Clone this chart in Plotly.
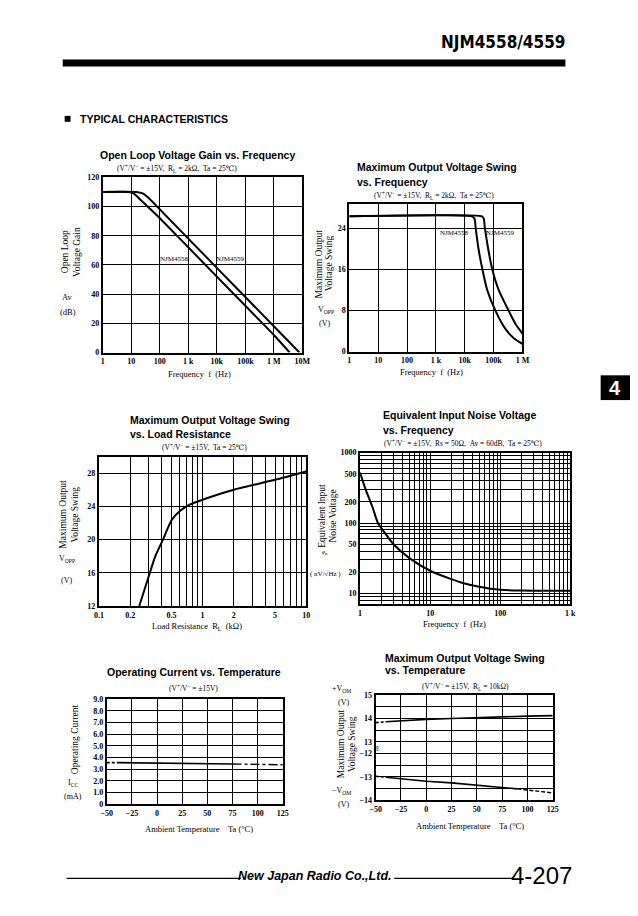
import plotly.graph_objects as go

W, H = 638, 916

# ---------------- data ----------------
# 1. Open loop voltage gain vs frequency
gain_freq_4558 = [1, 8, 12, 20, 100, 1e3, 1e4, 1e5, 1e6, 3.6e6]
gain_db_4558 = [110, 110, 109, 105, 92, 72, 52, 32, 12, 0]
gain_freq_4559 = [1, 15, 25, 40, 100, 1e3, 1e4, 1e5, 1e6, 7.9e6]
gain_db_4559 = [110, 110, 109, 106, 98, 78, 58, 38, 18, 0]
freq7_ticks = [1, 10, 100, 1e3, 1e4, 1e5, 1e6, 1e7]
freq7_labels = ["1", "10", "100", "1 k", "10k", "100k", "1 M", "10M"]

# 2. Max output voltage swing vs frequency
swing_freq_4558 = [1, 1.8e4, 2.2e4, 2.4e4, 3e4, 4.1e4, 6e4, 1.15e5, 2.5e5, 5e5, 1e6]
swing_v_4558 = [26.3, 26.3, 25.8, 24, 20, 16, 12, 8, 4.5, 2.6, 1.5]
swing_freq_4559 = [1, 4e4, 4.6e4, 5e4, 6.5e4, 9e4, 1.5e5, 3.3e5, 6e5, 1e6]
swing_v_4559 = [26.3, 26.3, 25.8, 24, 20, 16, 12, 8, 5.2, 3.5]
freq6_labels = ["1", "10", "100", "1 k", "10k", "100k", "1 M"]
swing_ticks = [0, 8, 16, 24]

# 3. Max output voltage swing vs load resistance
load_kohm = [0.245, 0.31, 0.35, 0.415, 0.5, 0.6, 0.75, 1, 2, 5, 10]
load_vopp = [12, 16, 18, 20, 22.3, 23.4, 24.2, 24.8, 26, 27.2, 28.2]
load_ticks = [12, 16, 20, 24, 28]
load_tickvals = [0.1, 0.2, 0.5, 1, 2, 5, 10]
load_ticklabels = ["0.1", "0.2", "0.5", "1", "2", "5", "10"]

# 4. Equivalent input noise voltage vs frequency
noise_freq = [1, 1.2, 1.5, 1.8, 2.2, 3, 5, 10, 20, 30, 50, 100, 200, 1000]
noise_nv = [520, 300, 170, 100, 75, 50, 32, 21, 16, 14, 12.5, 11.3, 11, 10.9]
noise_y_ticks = [10, 20, 50, 100, 200, 500, 1000]
noise_y_labels = ["10", "20", "50", "100", "200", "500", "1000"]
noise_x_ticks = [1, 10, 100, 1000]
noise_x_labels = ["1", "10", "100", "1 k"]

# 5. Operating current vs temperature
temp_icc = [-50, -40, -25, 0, 25, 50, 75, 100, 125]
icc_ma = [3.55, 3.55, 3.54, 3.52, 3.5, 3.47, 3.44, 3.4, 3.37]
temp_ticks = [-50, -25, 0, 25, 50, 75, 100, 125]
temp_labels = ["\u221250", "\u221225", "0", "25", "50", "75", "100", "125"]
icc_labels = ["0", "1.0", "2.0", "3.0", "4.0", "5.0", "6.0", "7.0", "8.0", "9.0"]

# 6. Max output voltage swing vs temperature
temp_vom = [-50, -40, -25, 0, 25, 50, 75, 90, 100, 125]
vom_pos = [13.82, 13.86, 13.9, 13.96, 14.0, 14.04, 14.07, 14.09, 14.1, 14.12]
vom_neg = [-12.98, -13.02, -13.09, -13.19, -13.26, -13.35, -13.45, -13.52, -13.57, -13.69]
vom_tick_volts = [-14, -13, -12, 13, 14, 15]
vom_labels = ["\u221214", "\u221213", "\u221212", "13", "14", "15"]
vom_minor_volts = [-13.5, -12.5, 13.5, 14.5]


def vom_axis(v):
    # broken axis: positive swing 13..15 above, negative -14..-12 below
    return 2 * v - 21 if v > 0 else 2 * (v + 14)


# ---------------- helpers ----------------
def xd(a, b):
    return [a / W, b / W]


def yd(top, bottom):
    return [1 - bottom / H, 1 - top / H]


def logminor(lo_dec, hi_dec, skip):
    vals = []
    for d in range(lo_dec, hi_dec + 1):
        for m in range(1, 10):
            v = round(m * 10 ** d, 6)
            if v not in skip:
                vals.append(v)
    return vals


SERIF = "Liberation Serif, DejaVu Serif, serif"
SANS = "Liberation Sans, Arial, sans-serif"

axis_common = dict(showline=True, linecolor="black", linewidth=2, mirror=True,
                   showgrid=True, gridcolor="black", gridwidth=1.1, zeroline=False,
                   ticks="", tickfont=dict(family=SERIF, size=8, color="black", weight="bold"),
                   fixedrange=True)


def minor(vals):
    return dict(tickvals=vals, showgrid=True, gridcolor="black", gridwidth=1.1, ticks="")


fig = go.Figure()
line = dict(color="black", width=2)

# chart 1
fig.add_trace(go.Scatter(x=gain_freq_4558, y=gain_db_4558, mode="lines", line=dict(line, shape="spline", smoothing=0.5),
                         xaxis="x", yaxis="y"))
fig.add_trace(go.Scatter(x=gain_freq_4559, y=gain_db_4559, mode="lines", line=dict(line, shape="spline", smoothing=0.5),
                         xaxis="x", yaxis="y"))
# chart 2
fig.add_trace(go.Scatter(x=swing_freq_4558, y=swing_v_4558, mode="lines", line=dict(line, shape="spline", smoothing=0.5),
                         xaxis="x2", yaxis="y2"))
fig.add_trace(go.Scatter(x=swing_freq_4559, y=swing_v_4559, mode="lines", line=dict(line, shape="spline", smoothing=0.5),
                         xaxis="x2", yaxis="y2"))
# chart 3
fig.add_trace(go.Scatter(x=load_kohm, y=load_vopp, mode="lines", line=dict(line, shape="spline", smoothing=0.6),
                         xaxis="x3", yaxis="y3"))
# chart 4
fig.add_trace(go.Scatter(x=noise_freq, y=noise_nv, mode="lines", line=dict(line, shape="spline", smoothing=0.8),
                         xaxis="x4", yaxis="y4"))
# chart 5: dashed start, solid middle, dash-dot end
fig.add_trace(go.Scatter(x=temp_icc[0:2], y=icc_ma[0:2], mode="lines", line=dict(color="black", width=1.6, dash="3px,2px"),
                         xaxis="x5", yaxis="y5"))
fig.add_trace(go.Scatter(x=temp_icc[1:7], y=icc_ma[1:7], mode="lines", line=dict(color="black", width=1.6),
                         xaxis="x5", yaxis="y5"))
fig.add_trace(go.Scatter(x=temp_icc[6:], y=icc_ma[6:], mode="lines", line=dict(color="black", width=1.4, dash="dashdot"),
                         xaxis="x5", yaxis="y5"))
# chart 6
pos_u = [vom_axis(v) for v in vom_pos]
neg_u = [vom_axis(v) for v in vom_neg]
for series in (pos_u, neg_u):
    fig.add_trace(go.Scatter(x=temp_vom[0:2], y=series[0:2], mode="lines",
                             line=dict(color="black", width=1.6, dash="3px,2px"), xaxis="x6", yaxis="y6"))
fig.add_trace(go.Scatter(x=temp_vom[1:], y=pos_u[1:], mode="lines", line=dict(color="black", width=1.6),
                         xaxis="x6", yaxis="y6"))
fig.add_trace(go.Scatter(x=temp_vom[1:8], y=neg_u[1:8], mode="lines", line=dict(color="black", width=1.6),
                         xaxis="x6", yaxis="y6"))
fig.add_trace(go.Scatter(x=temp_vom[7:], y=neg_u[7:], mode="lines", line=dict(color="black", width=1.4, dash="4px,2px"),
                         xaxis="x6", yaxis="y6"))

# ---------------- axes ----------------
fig.update_layout(
    xaxis=dict(axis_common, type="log", range=[0, 7], tickvals=freq7_ticks, ticktext=freq7_labels,
               domain=xd(99, 303), anchor="y"),
    yaxis=dict(axis_common, range=[0, 120], tickvals=[0, 20, 40, 60, 80, 100, 120],
               domain=yd(175, 352), anchor="x"),
    xaxis2=dict(axis_common, type="log", range=[0, 6], tickvals=freq7_ticks[:7], ticktext=freq6_labels,
                domain=xd(351, 528), anchor="y2"),
    yaxis2=dict(axis_common, range=[0, 28.7], tickvals=swing_ticks,
                domain=yd(202, 351), anchor="x2"),
    xaxis3=dict(axis_common, type="log", range=[-1, 1],
                tickvals=load_tickvals, ticktext=load_ticklabels,
                minor=minor(logminor(-1, 0, load_tickvals)),
                domain=xd(95, 307), anchor="y3"),
    yaxis3=dict(axis_common, range=[12, 30], tickvals=load_ticks,
                domain=yd(457, 608), anchor="x3"),
    xaxis4=dict(axis_common, type="log", range=[0, 3],
                tickvals=noise_x_ticks, ticktext=noise_x_labels,
                minor=minor(logminor(0, 2, noise_x_ticks)),
                domain=xd(362, 577), anchor="y4"),
    yaxis4=dict(axis_common, type="log", range=[0.85, 3],
                tickvals=noise_y_ticks, ticktext=noise_y_labels,
                minor=minor(logminor(0, 2, noise_y_ticks)),
                domain=yd(453, 606), anchor="x4"),
    xaxis5=dict(axis_common, range=[-50, 125], tickvals=temp_ticks, ticktext=temp_labels,
                domain=xd(103, 283), anchor="y5"),
    yaxis5=dict(axis_common, range=[0, 9], tickvals=list(range(10)), ticktext=icc_labels,
                domain=yd(702, 808), anchor="x5"),
    xaxis6=dict(axis_common, range=[-50, 125], tickvals=temp_ticks, ticktext=temp_labels,
                domain=xd(378, 559), anchor="y6"),
    yaxis6=dict(axis_common, range=[0, 9], tickvals=[vom_axis(v) for v in vom_tick_volts], ticktext=vom_labels,
                minor=minor([vom_axis(v) for v in vom_minor_volts]),
                domain=yd(698, 804), anchor="x6"),
)

# ---------------- text ----------------
anns = []


def ann(text, x, y, size=9, family=SERIF, xanchor="center", angle=0, color="black", bold=False):
    if bold:
        text = "<b>" + text + "</b>"
    anns.append(dict(text=text, x=x / W, y=1 - y / H, xref="paper", yref="paper", showarrow=False,
                     xanchor=xanchor, yanchor="middle", textangle=angle,
                     font=dict(family=family, size=size, color=color)))


TS = 10.5  # title size
# header
ann("NJM4558/4559", 574, 38, size=17, family="Liberation Sans Narrow, DejaVu Sans Condensed, sans-serif",
    xanchor="right", bold=True)
ann("TYPICAL CHARACTERISTICS", 74, 116, size=10.5, family=SANS, xanchor="left", bold=True)

# chart 1
ann("Open Loop Voltage Gain vs. Frequency", 196, 153, size=TS, family=SANS, bold=True)
ann("(V<sup>+</sup>/V<sup>\u2212</sup> = \u00b115V,  R<sub>L</sub> = 2k\u03a9,  Ta = 25\u2103)", 175, 166, size=7.5)
ann("Open Loop", 60, 250, size=9.5, angle=-90)
ann("Voltage Gain", 72, 250, size=9.5, angle=-90)
ann("Av", 63, 296, size=8.5)
ann("(dB)", 63, 311, size=8.5)
ann("NJM4558", 172, 258, size=7)
ann("NJM4559", 230, 258, size=7)
ann("Frequency  f  (Hz)", 198, 374, size=8.5)

# chart 2
ann("Maximum Output Voltage Swing", 357, 165, size=TS, family=SANS, xanchor="left", bold=True)
ann("vs. Frequency", 357, 180, size=TS, family=SANS, xanchor="left", bold=True)
ann("(V<sup>+</sup>/V<sup>\u2212</sup> = \u00b115V,  R<sub>L</sub> = 2k\u03a9,  Ta = 25\u2103)", 438, 193, size=7.5)
ann("Maximum Output", 320, 262, size=9.5, angle=-90)
ann("Voltage Swing", 331, 262, size=9.5, angle=-90)
ann("V<sub>OPP</sub>", 327, 309, size=8)
ann("(V)", 326, 323, size=8)
ann("NJM4558", 459, 231, size=7)
ann("NJM4559", 506, 231, size=7)
ann("Frequency  f  (Hz)", 435, 372, size=8.5)

# chart 3
ann("Maximum Output Voltage Swing", 125, 420, size=TS, family=SANS, xanchor="left", bold=True)
ann("vs. Load Resistance", 125, 434, size=TS, family=SANS, xanchor="left", bold=True)
ann("(V<sup>+</sup>/V<sup>\u2212</sup> = \u00b115V,  Ta = 25\u2103)", 203, 447, size=7.5)
ann("Maximum Output", 58, 515, size=9.5, angle=-90)
ann("Voltage Swing", 70, 515, size=9.5, angle=-90)
ann("V<sub>OPP</sub>", 62, 561, size=8)
ann("(V)", 62, 582, size=8)
ann("Load Resistance  R<sub>L</sub>  (k\u03a9)", 195, 629, size=8.5)

# chart 4
ann("Equivalent Input Noise Voltage", 383, 415, size=TS, family=SANS, xanchor="left", bold=True)
ann("vs. Frequency", 383, 430, size=TS, family=SANS, xanchor="left", bold=True)
ann("(V<sup>+</sup>/V<sup>\u2212</sup> = \u00b115V,  Rs = 50\u03a9,  Av = 60dB,  Ta = 25\u2103)", 467, 443, size=7.5)
ann("Equivalent Input", 323, 517, size=9.5, angle=-90)
ann("Noise Voltage", 334, 517, size=9.5, angle=-90)
ann("e<sub>n</sub>", 326, 553, size=7)
ann("( nV/\u221aHz )", 327, 576, size=7)
ann("Frequency  f  (Hz)", 459, 626, size=8.5)

# chart 5
ann("Operating Current vs. Temperature", 192, 675, size=TS, family=SANS, bold=True)
ann("(V<sup>+</sup>/V<sup>\u2212</sup> = \u00b115V)", 192, 691, size=7.5)
ann("Operating Current", 70, 742, size=9.5, angle=-90)
ann("I<sub>CC</sub>", 68, 787, size=8)
ann("(mA)", 68, 800, size=8)
ann("Ambient Temperature    Ta (\u00b0C)", 197, 833, size=8.5)

# chart 6
ann("Maximum Output Voltage Swing", 385, 660, size=TS, family=SANS, xanchor="left", bold=True)
ann("vs. Temperature", 385, 673, size=TS, family=SANS, xanchor="left", bold=True)
ann("(V<sup>+</sup>/V<sup>\u2212</sup> = \u00b115V,  R<sub>L</sub> = 10k\u03a9)", 470, 689, size=7.5)
ann("+V<sub>OM</sub>", 343, 692, size=8)
ann("(V)", 345, 705, size=8)
ann("Maximum Output", 342, 747, size=9.5, angle=-90)
ann("Voltage Swing", 353, 747, size=9.5, angle=-90)
ann("\u2212V<sub>OM</sub>", 343, 795, size=8)
ann("(V)", 345, 808, size=8)
ann("\u2248", 379, 752, size=10, angle=-90)
ann("Ambient Temperature    Ta (\u00b0C)", 474, 830, size=8.5)

# footer
ann("<i>New Japan Radio Co.,Ltd.</i>", 316, 881, size=12.5, family=SANS, bold=True)
ann("4-207", 581, 880, size=24, family=SANS, xanchor="right")

# "4" tab
ann("4", 623, 388, size=20, family=SANS, color="white", bold=True)

shapes = [
    # header bar
    dict(type="rect", xref="paper", yref="paper", x0=58 / W, x1=572 / W, y0=1 - 63 / H, y1=1 - 56 / H,
         fillcolor="black", line=dict(width=0)),
    # bullet square
    dict(type="rect", xref="paper", yref="paper", x0=60 / W, x1=66 / W, y0=1 - 119 / H, y1=1 - 113 / H,
         fillcolor="black", line=dict(width=0)),
    # tab
    dict(type="rect", xref="paper", yref="paper", x0=608 / W, x1=638 / W, y0=1 - 400 / H, y1=1 - 375 / H,
         fillcolor="black", line=dict(width=0)),
    # footer lines
    dict(type="line", xref="paper", yref="paper", x0=62 / W, x1=240 / W, y0=1 - 883 / H, y1=1 - 883 / H,
         line=dict(color="black", width=1.2)),
    dict(type="line", xref="paper", yref="paper", x0=397 / W, x1=518 / W, y0=1 - 883 / H, y1=1 - 883 / H,
         line=dict(color="black", width=1.2)),
]

fig.update_layout(
    width=W, height=H, margin=dict(l=0, r=0, t=0, b=0),
    paper_bgcolor="white", plot_bgcolor="white", showlegend=False,
    annotations=anns, shapes=shapes,
)

fig.write_html("out.html", config={"displayModeBar": False},
               post_script="document.body.style.margin='0px';")
